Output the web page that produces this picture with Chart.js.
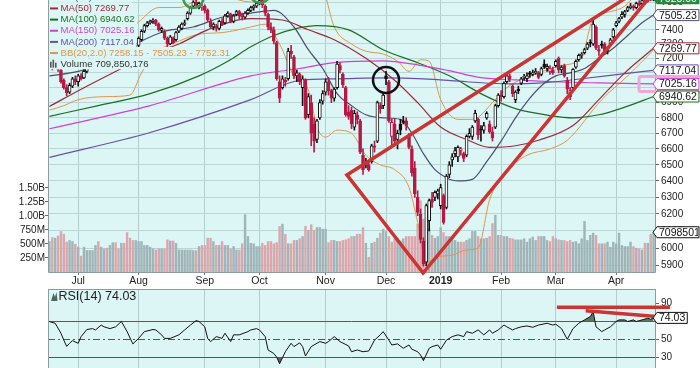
<!DOCTYPE html>
<html>
<head>
<meta charset="utf-8">
<title>NDX daily</title>
<script src="https://cdn.jsdelivr.net/npm/chart.js@4.4.1/dist/chart.umd.min.js"></script>
<style>
  html, body { margin:0; padding:0; background:#ffffff; }
  #wrap { position:relative; width:700px; height:368px; overflow:hidden; background:#fff; }
  canvas { position:absolute; left:0; }
  #main { top:0; }
  #rsi { top:289px; }
</style>
</head>
<body>
<div id="wrap">
  <canvas id="main" width="700" height="289"></canvas>
  <canvas id="rsi" width="700" height="79"></canvas>
</div>
<script>
// ---------------- DATA ----------------
const monthLabels = ['Jul','Aug','Sep','Oct','Nov','Dec','2019','Feb','Mar','Apr'];
const monthStarts = [10,31,54,73,96,117,136,157,176,197];

const opens = [
 7190,7170,7150,7170,7120,7050,7000,6970,7010,7060,
 7040,7080,7065,7110,7150,7210,7250,7255,7240,7300,7305,7290,7320,7340,7310,7330,7400,7370,7300,7270,7240,
 7290,7330,7390,7430,7450,7460,7470,7440,7395,7390,7340,7300,7340,7330,7390,7410,7440,7480,7520,7570,7600,7570,7560,
 7570,7540,7460,7420,7420,7410,7460,7450,7500,7510,7460,7510,7530,7500,7490,7520,7540,7560,7570,
 7600,7610,7570,7510,7420,7400,7310,7040,7000,7050,7060,7250,7210,7080,7090,7000,7050,6820,6900,6760,6660,6800,6910,
 6970,7040,6980,6930,7000,7150,7090,7000,6840,6850,6740,6820,6780,6560,6500,6500,6520,6620,6650,6880,6880,
 7080,7040,6680,6760,6660,6760,6780,6780,6690,6600,6480,6300,6200,6040,5920,6160,6290,6300,6320,
 6250,6310,6240,6440,6530,6570,6550,6590,6570,6560,6680,6680,6780,6790,6720,6720,6800,6760,6710,6740,6880,
 6950,6940,7040,7080,7010,6920,6990,7030,7070,7060,7100,7090,7100,7100,7090,7160,7130,7110,7120,
 7150,7200,7120,7150,7050,6940,7000,7140,7190,7220,7240,7270,7310,7300,7420,7260,7300,7300,7250,7300,7350,
 7430,7460,7490,7510,7540,7560,7570,7560,7590,7590,7610,7610,7640,7630
];
const highs = [
 7215,7190,7190,7185,7130,7060,7020,7030,7070,7080,
 7090,7095,7130,7160,7210,7260,7280,7270,7310,7330,7320,7330,7350,7350,7330,7410,7420,7380,7320,7280,7290,
 7350,7400,7440,7460,7470,7480,7475,7450,7420,7400,7350,7360,7350,7390,7430,7450,7470,7530,7570,7610,7620,7600,7590,
 7580,7550,7480,7450,7440,7470,7480,7510,7530,7520,7510,7540,7540,7520,7530,7550,7570,7580,7600,
 7630,7620,7580,7520,7450,7420,7320,7080,7080,7070,7270,7290,7220,7120,7100,7080,7060,6960,6950,6800,6790,6920,6980,
 7060,7070,6990,7000,7180,7170,7100,7010,6880,6870,6850,6840,6790,6600,6540,6520,6630,6650,6910,6900,6960,
 7110,7050,6790,6790,6720,6790,6810,6800,6700,6620,6520,6340,6230,6060,6260,6290,6330,6340,6350,
 6380,6320,6440,6520,6570,6610,6620,6610,6580,6690,6730,6750,6850,6800,6750,6770,6840,6780,6740,6890,6960,
 6980,7040,7090,7090,7020,6980,7010,7070,7090,7100,7110,7120,7130,7110,7140,7190,7160,7150,7140,
 7190,7210,7150,7160,7070,7000,7130,7190,7230,7240,7270,7310,7330,7470,7430,7290,7320,7310,7280,7340,7410,
 7460,7490,7530,7540,7570,7590,7580,7600,7610,7620,7630,7640,7660,7650
];
const lows = [
 7160,7120,7140,7110,7030,6990,6945,6960,7000,7020,
 7010,7050,7060,7100,7140,7200,7240,7220,7235,7290,7280,7280,7310,7300,7280,7320,7370,7300,7260,7220,7230,
 7280,7320,7380,7420,7440,7445,7430,7390,7380,7330,7280,7295,7300,7320,7380,7400,7430,7470,7510,7560,7570,7550,7540,
 7520,7460,7410,7400,7390,7400,7430,7440,7490,7450,7450,7500,7480,7470,7480,7510,7530,7540,7560,
 7580,7560,7500,7400,7380,7300,7050,6900,6990,7010,7050,7200,7060,7040,7020,6880,6790,6800,6620,6580,6640,6790,6890,
 6950,6950,6900,6910,6990,7100,7000,6810,6790,6730,6720,6760,6570,6440,6480,6460,6510,6580,6640,6830,6860,
 7020,6770,6620,6620,6600,6690,6760,6720,6600,6430,6300,6190,6030,5897,5900,6100,6240,6280,6290,
 6230,6140,6230,6420,6490,6550,6520,6560,6520,6550,6670,6660,6770,6660,6650,6700,6790,6700,6650,6730,6870,
 6910,6930,7030,7040,6940,6900,6960,7020,7050,7040,7070,7080,7090,7060,7080,7130,7110,7090,7090,
 7140,7100,7100,7070,6960,6920,6990,7130,7180,7200,7230,7260,7280,7290,7260,7220,7270,7230,7230,7290,7340,
 7420,7450,7480,7490,7530,7550,7540,7550,7570,7580,7590,7600,7610,7610
];
const closes = [
 7180,7150,7175,7125,7040,7000,6965,7015,7060,7040,
 7080,7060,7110,7150,7200,7250,7270,7230,7300,7310,7290,7320,7340,7320,7300,7400,7390,7310,7290,7240,7280,
 7340,7390,7430,7450,7460,7470,7440,7400,7410,7340,7300,7350,7310,7380,7420,7440,7450,7520,7560,7600,7580,7590,7570,
 7540,7470,7420,7440,7410,7460,7440,7500,7520,7460,7500,7530,7500,7490,7520,7540,7560,7570,7590,
 7610,7580,7520,7420,7400,7320,7060,6930,7060,7040,7250,7230,7080,7100,7040,7060,6800,6940,6700,6650,6780,6900,6960,
 7040,6980,6930,6990,7160,7120,7020,6820,6810,6760,6830,6790,6580,6470,6510,6470,6620,6610,6900,6860,6950,
 7060,6780,6770,6650,6700,6720,6770,6750,6610,6450,6320,6210,6050,5910,6250,6280,6270,6330,6340,
 6360,6150,6430,6500,6550,6590,6610,6600,6540,6680,6700,6740,6830,6690,6720,6750,6830,6710,6670,6880,6950,
 6940,7030,7080,7060,6960,6970,6980,7060,7075,7080,7090,7100,7110,7070,7130,7140,7145,7130,7100,
 7180,7120,7140,7080,6990,6980,7125,7180,7220,7225,7260,7300,7305,7440,7270,7250,7290,7240,7270,7330,7400,
 7450,7480,7510,7530,7560,7570,7560,7590,7580,7610,7600,7630,7620,7628
];
// volume in millions of shares
const volumesM = [
 550,620,610,650,730,680,540,570,550,500,
 450,290,450,390,390,390,480,550,450,420,
 430,480,530,530,420,520,520,710,610,570,
 570,550,550,480,480,450,420,400,420,420,
 420,580,560,560,520,400,400,400,400,400,
 390,390,460,480,480,610,610,550,480,480,
 550,480,480,420,460,400,400,510,1030,640,
 520,510,460,460,520,480,550,550,510,530,
 820,860,680,510,510,570,570,600,640,820,
 750,850,750,800,800,770,770,530,570,570,
 550,550,570,580,600,640,640,680,680,800,
 520,270,520,540,610,700,770,730,640,540,
 600,610,560,600,640,640,640,640,860,1280,
 950,900,780,660,610,640,800,710,640,640,
 610,570,540,540,540,570,600,730,730,640,
 600,600,610,640,870,1020,660,660,640,640,
 610,600,580,580,580,600,540,600,630,570,
 640,640,640,570,550,640,600,580,570,570,
 550,570,540,550,510,600,910,570,660,700,
 660,510,510,510,540,450,540,510,700,480,
 460,460,540,460,430,420,400,520,520,680,709.850176
];

const priceTicks = [5900,6000,6100,6200,6300,6400,6500,6600,6700,6800,6900,7000,7100,7200,7300,7400,7500,7600];
const volumeTicksM = [250,500,750,1000,1250,1500];
const rsiTicks = [30,50,70,90];

// overlays (day index -> value)
const ma20Days = [0,10,20,30,40,50,60,70,78,85,90,95,100,105,110,116,122,126,130,134,138,142,147,152,157,162,167,172,176,181,186,191,196,201,206,210];
const ma20Vals = [7080,7110,7180,7300,7390,7420,7490,7520,7540,7420,7260,7130,6960,6880,6820,6800,6790,6700,6570,6470,6420,6400,6410,6520,6650,6800,6930,7030,7080,7100,7130,7200,7270,7360,7450,7505.23];
const ma50Days = [0,12,24,35,45,55,70,81,90,99,110,120,128,136,145,153,162,170,182,191,200,210];
const ma50Vals = [6875,7000,7120,7230,7300,7400,7480,7470,7400,7330,7200,7050,6900,6740,6660,6610,6620,6655,6750,6920,7100,7269.77];
const ma100Days = [0,17,35,52,62,70,78,86,93,104,116,128,139,151,162,174,182,191,200,210];
const ma100Vals = [6810,6880,6960,7080,7180,7280,7360,7410,7430,7400,7260,7170,7080,6950,6860,6815,6800,6820,6870,6940.62];
const ma150Days = [0,35,70,87,99,116,128,139,150,162,175,191,210];
const ma150Vals = [6729,6880,7080,7130,7170,7182,7155,7115,7068,7052,7040,7032,7025.16];
const ma200Days = [0,35,70,87,100,117,130,145,160,170,185,200,210];
const ma200Vals = [6547,6705,6920,7050,7060,7066,7060,7040,7025,7030,7060,7095,7117.04];
const bbUpDays = [0,10,20,30,38,45,52,60,70,78,85,90,95,99,105,110,116,121,125,129,132,136,142,147,155,159,170,178,185,189,195,200,205,210];
const bbUpVals = [7250,7270,7330,7440,7560,7560,7620,7640,7600,7640,7750,7760,7700,7420,7300,7250,7230,7180,7110,7190,7180,6920,6790,6790,6920,7000,7100,7150,7210,7480,7530,7570,7680,7752.31];
const bbLoDays = [0,5,10,20,28,32,36,40,45,52,60,70,75,80,85,90,93,96,100,105,110,115,120,125,128,131,135,140,145,149,153,159,166,174,180,192,201,210];
const bbLoVals = [6850,6880,6920,6940,6950,7100,7220,7280,7320,7370,7380,7420,7440,7300,7080,6985,6740,6675,6720,6700,6560,6500,6470,6360,6150,5920,5950,5960,5990,6000,6285,6460,6560,6600,6655,6920,7080,7258.15];

const rsiDays = [0,2,4,5,6,7,8,10,11,13,15,16,18,19,21,23,25,27,29,31,33,36,37,39,40,42,45,47,49,51,52,54,55,56,58,60,61,63,64,66,69,70,72,73,75,76,78,79,80,82,84,85,87,88,89,91,94,96,97,99,101,104,105,107,109,111,113,115,116,118,119,121,123,125,126,128,129,130,132,133,135,136,138,140,142,144,145,147,149,151,153,154,156,158,159,161,162,164,166,168,170,173,175,176,178,180,182,184,186,188,189,190,192,193,195,197,198,200,201,203,204,206,208,209,210];
const rsiVals = [69.9,68,56.8,49,42,45.5,48.5,45.5,53,61,62,60.5,66,64,62,64,70,58.6,44.8,51,58.6,61,60.5,54.9,51,51,55,60.5,66,71,70,64,51,47.4,53,51,56.8,47.4,55,55,58.6,60.5,62,60.5,53,38,34,30,22.5,36,45.5,41.8,46,41.8,31.3,41.8,47.4,45.5,47.4,53,47.4,42.5,36,38,36,36.9,49,55,58.6,49,43.6,44.8,39.9,43.6,38.8,36,32.4,26,39.9,41.8,43.6,38.8,49,53,55,53,58.6,56.8,60.5,55,60.5,56.8,60.5,66,64,60.5,62,64,65,63.5,66,68,66,67,62,50,62,68,71.8,75.5,81,64,58.6,60.5,64,70,71.8,71.8,70,71.8,70,71.8,73.6,72.5,74.03];

// hand-drawn annotations, anchored in data units (day index, price / RSI)
const trendUpperEnd = {i:215.7, p:7838};
const trendApex     = {i:103.4, p:6437};
const trendVertex   = {i:129.9, p:5858};
const trendLowerEnd = {i:215.7, p:7820};
const blackCircle   = {i:117, p:7052, r:13};
const greenCircles  = [{i:50, p:7630, r:10}, {i:73.2, p:7667, r:10}];
const rsiRedLines   = [[{i:176.4, v:86}, {i:215.7, v:86}], [{i:186.4, v:82.1}, {i:212, v:75.4}]];

// ---------------- STYLE ----------------
const FONT = "'Liberation Sans', Arial, Helvetica, sans-serif";
const BG = '#dcf6f6';
const GRID_H = '#bad6d8';
const GRID_V = '#b3cdd0';
const BORDER = '#8d9c9e';
const C_MA20 = '#4a506a', C_MA50 = '#9c2a3c', C_MA100 = '#1e6e22', C_MA150 = '#d040d0', C_MA200 = '#6650a8', C_BB = '#e0964a';
const C_RED = '#b51a45', C_BLACK = '#111111';
const C_VUP = '#9fb5b8', C_VDN = '#dba7ad';
const C_ANN = '#cc3434';

Chart.defaults.font.family = FONT;
Chart.defaults.color = '#222';

const N = closes.length;
[['opens',opens],['highs',highs],['lows',lows],['closes',closes],['volumesM',volumesM]].forEach(([k,a]) => {
  if (a.length !== 211) throw new Error(k + ' has ' + a.length);
});
if (rsiDays.length !== rsiVals.length) throw new Error('rsi mismatch');

const PRICE_MAX = 7615, PRICE_MIN = 5864;   // visible range of the price panel
const VOL_MAX = 4857;                       // volume axis top (M)
const RSI_MIN = 17.75, RSI_MAX = 106.5;

const noPad = s => { s.paddingTop = 0; s.paddingBottom = 0; s.paddingLeft = 0; s.paddingRight = 0; };

const pts = (d, v) => d.map((x, k) => ({x, y: v[k]}));
const idx = closes.map((_, i) => i);
const upDay = idx.map(i => i === 0 ? true : closes[i] >= closes[i-1]);
const candleColor = idx.map(i => upDay[i] ? C_BLACK : C_RED);
const bodyFill = idx.map(i => closes[i] > opens[i] ? '#ffffff' : candleColor[i]);

const xScale = (showTicks) => ({
  type: 'linear', min: -0.5, max: N - 0.5, offset: false, bounds: 'data',
  afterBuildTicks: s => { s.ticks = monthStarts.map(v => ({value: v})); },
  afterFit: s => { s.height = showTicks ? 17 : 0; noPad(s); },
  grid: { color: GRID_V, offset: false, drawOnChartArea: true, tickLength: 3, tickColor: '#777' },
  border: { display: false },
  ticks: {
    display: showTicks, autoSkip: false, maxRotation: 0, minRotation: 0, padding: 0, color: '#222',
    font: c => ({ family: FONT, size: 10.5, weight: c.index === 6 ? 'bold' : 'normal' }),
    callback: (v, k) => monthLabels[k]
  }
});

function fmt2(v){ return v.toFixed(2); }
function lastOf(a){ return a[a.length-1]; }

function drawTag(ctx, y, text, stroke, fill, color, maxRight){
  ctx.save();
  ctx.font = '10.5px ' + FONT;
  const tw = ctx.measureText(text).width;
  const x0 = 653, x1 = 657, h = 5.5;
  let x2 = x1 + tw + 4;
  if (maxRight && x2 > maxRight) x2 = maxRight;
  ctx.beginPath();
  ctx.moveTo(x0, y); ctx.lineTo(x1, y - h); ctx.lineTo(x2, y - h); ctx.lineTo(x2, y + h); ctx.lineTo(x1, y + h); ctx.closePath();
  ctx.fillStyle = fill; ctx.fill();
  ctx.lineWidth = 1; ctx.strokeStyle = stroke; ctx.stroke();
  ctx.save();
  ctx.beginPath(); ctx.rect(x1, y - h, x2 - x1 - 1, 2*h); ctx.clip();
  ctx.fillStyle = color; ctx.textBaseline = 'middle'; ctx.textAlign = 'left';
  ctx.fillText(text, x1 + 2, y + 0.5);
  ctx.restore();
  ctx.restore();
}

// ---------------- MAIN PANEL ----------------
const mainPlugin = {
  id: 'mainPanel',
  beforeDraw(chart){
    const {ctx, chartArea: a} = chart;
    ctx.save(); ctx.fillStyle = BG; ctx.fillRect(a.left, a.top, a.right - a.left, a.bottom - a.top); ctx.restore();
  },
  afterDraw(chart){
    const {ctx, chartArea: a, scales} = chart;
    const xs = scales.x, yp = scales.yPrice, yv = scales.yVol;
    const P = (i, p) => [xs.getPixelForValue(i), yp.getPixelForValue(p)];
    ctx.save();
    ctx.strokeStyle = BORDER; ctx.lineWidth = 1;
    ctx.beginPath();
    ctx.moveTo(a.left + 0.5, a.top); ctx.lineTo(a.left + 0.5, a.bottom + 0.5);
    ctx.lineTo(a.right + 0.5, a.bottom + 0.5); ctx.lineTo(a.right + 0.5, a.top);
    ctx.stroke();

    ctx.strokeStyle = C_ANN; ctx.lineWidth = 3.5; ctx.lineJoin = 'miter'; ctx.lineCap = 'butt';
    ctx.beginPath();
    let q = P(trendUpperEnd.i, trendUpperEnd.p); ctx.moveTo(q[0], q[1]);
    q = P(trendApex.i, trendApex.p); ctx.lineTo(q[0], q[1]);
    q = P(trendVertex.i, trendVertex.p); ctx.lineTo(q[0], q[1]);
    q = P(trendLowerEnd.i, trendLowerEnd.p); ctx.lineTo(q[0], q[1]);
    ctx.stroke();

    ctx.lineWidth = 2.5; ctx.strokeStyle = '#111';
    q = P(blackCircle.i, blackCircle.p);
    ctx.beginPath(); ctx.arc(q[0], q[1], blackCircle.r, 0, Math.PI*2); ctx.stroke();
    ctx.strokeStyle = '#3a9a4a';
    greenCircles.forEach(c => { const g = P(c.i, c.p); ctx.beginPath(); ctx.arc(g[0], g[1], c.r, 0, Math.PI*2); ctx.stroke(); });

    const volTxt = Math.round(lastOf(volumesM) * 1e6).toLocaleString('en-US');
    const rows = [
      {t: 'MA(20) ' + fmt2(lastOf(ma20Vals)), c: C_MA20},
      {t: 'MA(50) ' + fmt2(lastOf(ma50Vals)), c: C_MA50},
      {t: 'MA(100) ' + fmt2(lastOf(ma100Vals)), c: C_MA100},
      {t: 'MA(150) ' + fmt2(lastOf(ma150Vals)), c: C_MA150},
      {t: 'MA(200) ' + fmt2(lastOf(ma200Vals)), c: C_MA200},
      {t: 'BB(20,2.0) ' + fmt2(lastOf(bbLoVals)) + ' - ' + fmt2(lastOf(ma20Vals)) + ' - ' + fmt2(lastOf(bbUpVals)), c: C_BB},
      {t: 'Volume ' + volTxt, c: '#333', vol: true}
    ];
    ctx.font = '9.6px ' + FONT; ctx.textBaseline = 'middle'; ctx.textAlign = 'left';
    rows.forEach((r, k) => {
      const y = -3.2 + k * 11.15;
      const w = ctx.measureText(r.t).width;
      ctx.fillStyle = BG; ctx.fillRect(a.left + 1, y - 5.6, 12 + w + 2, 11.2);
      if (r.vol) {
        ctx.fillStyle = '#555';
        ctx.fillRect(50, y - 2, 1.6, 6); ctx.fillRect(52.5, y - 4, 1.6, 8); ctx.fillRect(55, y - 1, 1.6, 5);
      } else {
        ctx.strokeStyle = r.c; ctx.lineWidth = 2; ctx.beginPath(); ctx.moveTo(50, y + 0.5); ctx.lineTo(58, y + 0.5); ctx.stroke();
      }
      ctx.fillStyle = r.c; ctx.fillText(r.t, 60.5, y + 0.5);
    });

    drawTag(ctx, yp.getPixelForValue(lastOf(closes)), fmt2(lastOf(closes)), '#1d7a33', '#2a8c3f', '#fff');
    drawTag(ctx, yp.getPixelForValue(lastOf(ma20Vals)), fmt2(lastOf(ma20Vals)), C_MA20, '#fff', '#111');
    drawTag(ctx, yp.getPixelForValue(lastOf(ma50Vals)), fmt2(lastOf(ma50Vals)), C_MA50, '#fff', '#111');
    drawTag(ctx, yp.getPixelForValue(lastOf(ma200Vals)), fmt2(lastOf(ma200Vals)), C_MA200, '#fff', '#111');
    const y150 = yp.getPixelForValue(lastOf(ma150Vals));
    drawTag(ctx, y150, fmt2(lastOf(ma150Vals)), C_MA150, '#fff', '#111');
    ctx.strokeStyle = '#f2a6da'; ctx.lineWidth = 3;
    ctx.beginPath(); ctx.roundRect ? ctx.roundRect(639, y150 - 7.5, 64, 15, 2) : ctx.rect(639, y150 - 7.5, 64, 15); ctx.stroke();
    drawTag(ctx, yp.getPixelForValue(lastOf(ma100Vals)), fmt2(lastOf(ma100Vals)), C_MA100, '#fff', '#111');
    drawTag(ctx, yv.getPixelForValue(lastOf(volumesM)), String(Math.round(lastOf(volumesM) * 1e6)), '#111', '#fff', '#111', 699);
    ctx.restore();
  }
};

const lineDs = (data, color, order, width) => ({
  type: 'line', data, yAxisID: 'yPrice', borderColor: color, borderWidth: width || 1.2,
  pointRadius: 0, tension: 0.35, cubicInterpolationMode: 'monotone', fill: false, order
});

new Chart(document.getElementById('main'), {
  type: 'bar',
  data: {
    datasets: [
      { type: 'bar', label: 'Volume', yAxisID: 'yVol', order: 20, grouped: false,
        data: idx.map(i => ({x: i, y: volumesM[i]})),
        backgroundColor: idx.map(i => upDay[i] ? C_VUP : C_VDN), borderWidth: 0,
        barPercentage: 0.85, categoryPercentage: 1 },
      lineDs(pts(bbUpDays, bbUpVals), C_BB, 12, 1),
      lineDs(pts(bbLoDays, bbLoVals), C_BB, 12, 1),
      lineDs(pts(ma200Days, ma200Vals), C_MA200, 11),
      lineDs(pts(ma150Days, ma150Vals), C_MA150, 11),
      lineDs(pts(ma100Days, ma100Vals), C_MA100, 11),
      lineDs(pts(ma50Days, ma50Vals), C_MA50, 10),
      lineDs(pts(ma20Days, ma20Vals), C_MA20, 10),
      { type: 'bar', label: 'wick', yAxisID: 'yPrice', order: 3, grouped: false,
        data: idx.map(i => ({x: i, y: [lows[i], highs[i]]})),
        backgroundColor: candleColor, borderWidth: 0, barThickness: 1 },
      { type: 'bar', label: 'body', yAxisID: 'yPrice', order: 2, grouped: false,
        data: idx.map(i => ({x: i, y: [Math.min(opens[i], closes[i]), Math.max(opens[i], closes[i])]})),
        backgroundColor: bodyFill, borderColor: candleColor, borderWidth: 1, borderSkipped: false,
        barThickness: 3, minBarLength: 1 }
    ]
  },
  options: {
    responsive: false, maintainAspectRatio: false, animation: false, devicePixelRatio: 1,
    layout: { padding: 0 },
    plugins: { legend: { display: false }, tooltip: { enabled: false } },
    scales: {
      x: xScale(true),
      yPrice: {
        type: 'logarithmic', position: 'right', min: PRICE_MIN, max: PRICE_MAX, bounds: 'data',
        afterBuildTicks: s => { s.ticks = priceTicks.map(v => ({value: v})); },
        afterFit: s => { s.width = 45; noPad(s); },
        grid: { color: GRID_H, tickLength: 4, tickColor: '#666' },
        border: { display: false },
        ticks: { autoSkip: false, padding: 2, color: '#222', font: { family: FONT, size: 10 }, callback: v => String(v) }
      },
      yVol: {
        type: 'linear', position: 'left', min: 0, max: VOL_MAX, bounds: 'data',
        afterBuildTicks: s => { s.ticks = volumeTicksM.map(v => ({value: v})); },
        afterFit: s => { s.width = 48; noPad(s); },
        grid: { drawOnChartArea: false, tickLength: 3, tickColor: '#666' },
        border: { display: false },
        ticks: { autoSkip: false, padding: 0, color: '#222', font: { family: FONT, size: 10 },
          callback: v => v >= 1000 ? (v/1000).toFixed(2) + 'B' : v + 'M' }
      }
    }
  },
  plugins: [mainPlugin]
});

// ---------------- RSI PANEL ----------------
const rsiPlugin = {
  id: 'rsiPanel',
  beforeDraw(chart){
    const {ctx, chartArea: a} = chart;
    ctx.save(); ctx.fillStyle = BG; ctx.fillRect(a.left, a.top, a.right - a.left, a.bottom - a.top); ctx.restore();
  },
  beforeDatasetsDraw(chart){
    const {ctx, chartArea: a, scales} = chart;
    const y = scales.y;
    ctx.save();
    ctx.strokeStyle = '#555'; ctx.lineWidth = 1;
    [70, 30].forEach(v => { const p = Math.round(y.getPixelForValue(v)) + 0.5; ctx.beginPath(); ctx.moveTo(a.left, p); ctx.lineTo(a.right, p); ctx.stroke(); });
    ctx.setLineDash([7, 3, 2, 3]);
    const p50 = Math.round(y.getPixelForValue(50)) + 0.5;
    ctx.beginPath(); ctx.moveTo(a.left, p50); ctx.lineTo(a.right, p50); ctx.stroke();
    ctx.restore();
  },
  afterDraw(chart){
    const {ctx, chartArea: a, scales} = chart;
    const xs = scales.x, y = scales.y;
    ctx.save();
    ctx.strokeStyle = BORDER; ctx.lineWidth = 1;
    ctx.strokeRect(a.left + 0.5, a.top + 0.5, a.right - a.left, a.bottom - a.top + 2);
    const lbl = 'RSI(14) ' + fmt2(lastOf(rsiVals));
    ctx.font = '12.5px ' + FONT; ctx.textBaseline = 'middle'; ctx.textAlign = 'left';
    ctx.fillStyle = '#4c6a55';
    ctx.beginPath(); ctx.moveTo(51, 12); ctx.lineTo(53.5, 4); ctx.lineTo(55, 8); ctx.lineTo(56.5, 3); ctx.lineTo(57.5, 12); ctx.closePath(); ctx.fill();
    ctx.fillStyle = '#222'; ctx.fillText(lbl, 58.5, 8);
    ctx.strokeStyle = C_ANN; ctx.lineWidth = 3.5; ctx.lineCap = 'butt';
    rsiRedLines.forEach(seg => {
      ctx.beginPath();
      ctx.moveTo(xs.getPixelForValue(seg[0].i), y.getPixelForValue(seg[0].v));
      ctx.lineTo(xs.getPixelForValue(seg[1].i), y.getPixelForValue(seg[1].v));
      ctx.stroke();
    });
    drawTag(ctx, y.getPixelForValue(lastOf(rsiVals)), fmt2(lastOf(rsiVals)), '#111', '#fff', '#111');
    ctx.restore();
  }
};

const rsiPts = pts(rsiDays, rsiVals);
new Chart(document.getElementById('rsi'), {
  type: 'line',
  data: {
    datasets: [
      { data: rsiPts, borderColor: '#111', borderWidth: 1, pointRadius: 0, tension: 0,
        fill: { target: { value: 70 }, above: '#557a63', below: 'rgba(0,0,0,0)' } },
      { data: rsiPts, borderColor: 'rgba(0,0,0,0)', borderWidth: 0, pointRadius: 0, tension: 0,
        fill: { target: { value: 30 }, above: 'rgba(0,0,0,0)', below: '#6e5a66' } }
    ]
  },
  options: {
    responsive: false, maintainAspectRatio: false, animation: false, devicePixelRatio: 1,
    layout: { padding: { left: 48 } },
    plugins: { legend: { display: false }, tooltip: { enabled: false } },
    scales: {
      x: xScale(false),
      y: {
        type: 'linear', position: 'right', min: RSI_MIN, max: RSI_MAX, bounds: 'data',
        afterBuildTicks: s => { s.ticks = rsiTicks.map(v => ({value: v})); },
        afterFit: s => { s.width = 45; noPad(s); },
        grid: { drawOnChartArea: false, tickLength: 4, tickColor: '#666' },
        border: { display: false },
        ticks: { autoSkip: false, padding: 2, color: '#222', font: { family: FONT, size: 10 }, callback: v => String(v) }
      }
    }
  },
  plugins: [rsiPlugin]
});
</script>
</body>
</html>
